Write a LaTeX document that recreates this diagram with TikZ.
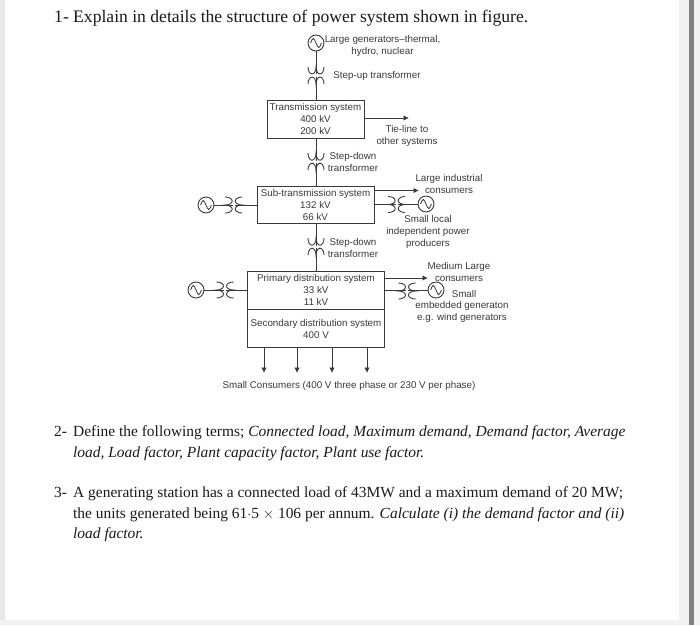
\documentclass[tikz,border=0pt]{standalone}
\usepackage{fontspec}
\usetikzlibrary{arrows.meta}
\setmainfont{Liberation Serif}
\setsansfont{Liberation Sans}
\definecolor{ink}{HTML}{3A3A3A}
\definecolor{qink}{HTML}{1A1A1A}
\tikzset{
  question/.style={anchor=base west,inner sep=0pt,font=\fontsize{15.45}{17}\selectfont,text=qink},
  bigquestion/.style={question,font=\fontsize{17.6}{19}\selectfont},
  lbl/.style={inner sep=0pt,align=center,font=\sffamily\fontsize{9.8}{12}\selectfont,text=ink},
  sys/.style={draw=ink,line width=0.9pt,fill=white,inner sep=0pt},
  wire/.style={draw=ink,line width=0.9pt},
  coil/.style={draw=ink,line width=0.9pt},
  feed/.style={draw=ink,line width=0.9pt,-{Latex[length=5.5pt,width=5.5pt]}},
  gen/.style={circle,draw=ink,line width=0.9pt,minimum size=16pt,inner sep=0pt,fill=white,
    path picture={\draw[ink,line width=0.8pt] ([xshift=-5.5pt]path picture bounding box.center)
      .. controls +(2.5pt,6pt) and +(-2.5pt,6pt) .. (path picture bounding box.center)
      .. controls +(2.5pt,-6pt) and +(-2.5pt,-6pt) .. ([xshift=5.5pt]path picture bounding box.center);}},
}
\begin{document}
\begin{tikzpicture}[x=1pt,y=-1pt]
\useasboundingbox (0,0) rectangle (700,625);
\fill[white] (0,0) rectangle (700,625);
% page frame
\fill[black!9] (0,0) rectangle (5,625);
\fill[black!5] (679,0) rectangle (700,625);
\fill[black!50] (689,0) rectangle (694,625);
\fill[black!5] (0,620) rectangle (679,625);
% generators
\node[gen] (g1) at (316,43) {};
\node[gen] (g2) at (206,205) {};
\node[gen] (g3) at (426,204) {};
\node[gen] (g4) at (196,290) {};
\node[gen] (g5) at (436,290) {};
% boxes
\node[sys,minimum width=97pt,minimum height=38pt] (trans) at (315.5,119) {};
\node[sys,minimum width=117pt,minimum height=37pt] (sub) at (315.5,204.5) {};
\node[sys,minimum width=137pt,minimum height=38pt] (prim) at (315.5,290) {};
\node[sys,minimum width=137pt,minimum height=38pt] (sec) at (315.5,328) {};
% transformer anchors
\coordinate (t1) at (316,75.5);
\coordinate (t2) at (316,161.7);
\coordinate (t3) at (316,246.7);
\coordinate (t4) at (233.7,205);
\coordinate (t5) at (396.7,204.5);
\coordinate (t6) at (225,290);
\coordinate (t7) at (407,291);
% free ends
\coordinate (tie) at (409,118);
\coordinate (ind) at (419,190.5);
\coordinate (med) at (428,278);
% connectors
\draw[wire] (g1) -- (trans.north -| g1);
\draw[wire] (trans.south -| t2) -- (sub.north -| t2);
\draw[wire] (sub.south -| t3) -- (prim.north -| t3);
\draw[wire] (g2) -- (sub.west |- g2);
\draw[wire] (g3) -- (sub.east |- g3);
\draw[wire] (g4) -- (prim.west |- g4);
\draw[wire] (g5) -- (prim.east |- g5);
\draw[feed] (trans.east |- tie) -- (tie);
\draw[feed] (sub.east |- ind) -- (ind);
\draw[feed] (prim.east |- med) -- (med);
\foreach \x/\n in {264/a,297/b,332/c,367/d}{
  \coordinate (load\n) at (\x,373);
  \draw[feed] (sec.south -| load\n) -- (load\n);
}
% transformer symbols (gap in wire)
\foreach \c in {t1,t2,t3}{
  \fill[white] ([xshift=-2pt,yshift=-1.2pt]\c) rectangle ([xshift=2pt,yshift=1.2pt]\c);
  \draw[coil] ([yshift=-8.5pt]\c) ++(-8,0) arc[start angle=180,end angle=360,x radius=4,y radius=7] arc[start angle=180,end angle=360,x radius=4,y radius=7];
  \draw[coil] ([yshift=8.5pt]\c) ++(-8,0) arc[start angle=180,end angle=0,x radius=4,y radius=7] arc[start angle=180,end angle=0,x radius=4,y radius=7];
}
\foreach \c in {t4,t5,t6,t7}{
  \fill[white] ([xshift=-1.2pt,yshift=-2pt]\c) rectangle ([xshift=1.2pt,yshift=2pt]\c);
  \draw[coil] ([xshift=-8.5pt]\c) ++(0,-8) arc[start angle=-90,end angle=90,x radius=7,y radius=4] arc[start angle=-90,end angle=90,x radius=7,y radius=4];
  \draw[coil] ([xshift=8.5pt]\c) ++(0,-8) arc[start angle=270,end angle=90,x radius=7,y radius=4] arc[start angle=270,end angle=90,x radius=7,y radius=4];
}
% box text
\node[lbl] (ttrans) at (315.5,118.5) {Transmission system\\400 kV\\200 kV};
\node[lbl] (tsub) at (315.5,204.5) {Sub-transmission system\\132 kV\\66 kV};
\node[lbl] (tprim) at (316,290) {Primary distribution system\\33 kV\\11 kV};
\node[lbl] (tsec) at (316,328.5) {Secondary distribution system\\400 V};
% labels
\node[lbl] (l1) at (382.5,46) {Large generators--thermal,\\hydro, nuclear};
\node[lbl] (l2) at (377,75.5) {Step-up transformer};
\node[lbl] (l3) at (407,136) {Tie-line to\\other systems};
\node[lbl] (l4) at (353,162) {Step-down\\transformer};
\node[lbl] (l5) at (449,184) {Large industrial\\consumers};
\node[lbl] (l6) at (428,231.5) {Small local\\independent power\\producers};
\node[lbl] (l7) at (353,248) {Step-down\\transformer};
\node[lbl] (l8) at (459,272) {Medium Large\\consumers};
\node[lbl] (l9) at (464,294) {Small};
\node[lbl] (l10) at (462,312) {embedded generaton\\e.g. wind generators};
\node[lbl] (l11) at (349,386) {Small Consumers (400 V three phase or 230 V per phase)};
% questions
\node[bigquestion] (q1n) at (54,22.5) {1-};
\node[bigquestion] (q1) at (73,22.5) {Explain in details the structure of power system shown in figure.};
\node[question] (q2n) at (54,436) {2-};
\node[question] (q2a) at (73,436) {Define the following terms; \textit{Connected load, Maximum demand, Demand factor, Average}};
\node[question] (q2b) at (73,457) {\textit{load, Load factor, Plant capacity factor, Plant use factor.}};
\node[question] (q3n) at (54,497) {3-};
\node[question] (q3a) at (73,497) {A generating station has a connected load of 43MW and a maximum demand of 20 MW;};
\node[question] (q3b) at (73,518) {the units generated being 61$\cdot$5 $\times$ 106 per annum. \textit{Calculate (i) the demand factor and (ii)}};
\node[question] (q3c) at (73,538) {\textit{load factor.}};
\end{tikzpicture}
\end{document}
